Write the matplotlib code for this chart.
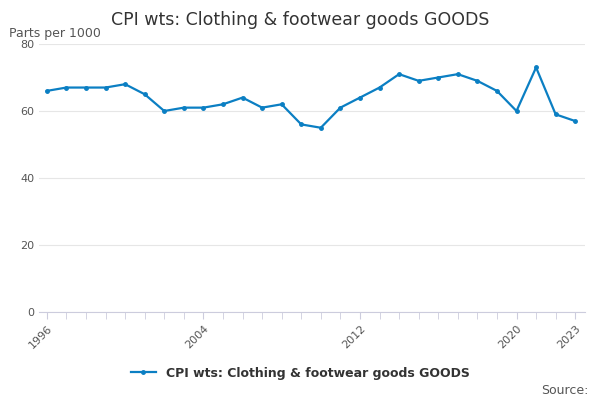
import matplotlib
matplotlib.use("Agg")
import matplotlib.pyplot as plt

years = list(range(1996, 2024))
values = [66, 67, 67, 67, 68, 65, 60, 61, 61, 62, 64, 61, 62, 56, 55, 61, 64, 67, 71, 69, 70, 71, 69, 66, 60, 73, 59, 57]
tick_years = [1996, 2004, 2012, 2020, 2023]
series_name = "CPI wts: Clothing & footwear goods GOODS"

fig = plt.figure(figsize=(6, 4), dpi=100)
ax = fig.add_axes([0.065, 0.22, 0.91, 0.67])
color = "#0b7fc3"
ax.plot(years, values, color=color, lw=1.6, marker="o", ms=2.5, label=series_name)
ax.set_ylim(0, 80)
ax.set_yticks([0, 20, 40, 60, 80])
ax.set_xlim(1995.6, 2023.5)
ax.set_xticks(tick_years)
ax.set_xticklabels([str(y) for y in tick_years], rotation=45, ha="right", rotation_mode="anchor")
ax.set_xticks(years, minor=True)
ax.tick_params(axis="x", which="both", length=5, color="#ccccdd", labelsize=8, labelcolor="#555")
ax.tick_params(axis="y", length=0, labelsize=8, labelcolor="#555")
ax.grid(axis="y", color="#e6e6e6", lw=0.8)
for s in ["top", "right", "left"]:
    ax.spines[s].set_visible(False)
ax.spines["bottom"].set_color("#ccccdd")
ax.set_axisbelow(True)
fig.text(0.5, 0.95, series_name, ha="center", va="center", fontsize=12.5, color="#333")
fig.text(0.015, 0.915, "Parts per 1000", ha="left", va="center", fontsize=9, color="#555")
fig.legend(loc="center", bbox_to_anchor=(0.5, 0.067), frameon=False, prop={"size": 9, "weight": "bold"}, labelcolor="#333")
fig.text(0.98, 0.025, "Source:", ha="right", va="center", fontsize=9, color="#555")
fig.savefig("out.png", dpi=100)
